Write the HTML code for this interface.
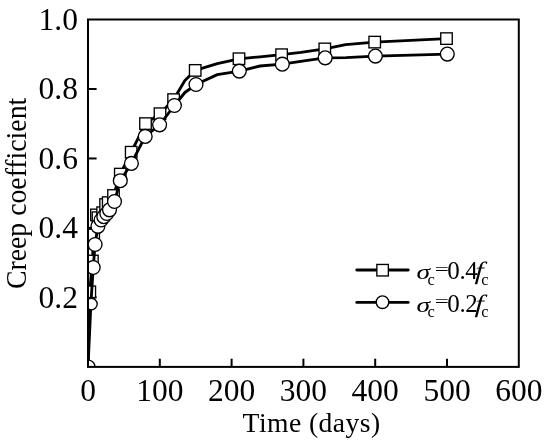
<!DOCTYPE html>
<html><head><meta charset="utf-8"><title>Creep coefficient vs time</title>
<style>
html,body{margin:0;padding:0;background:#fff}
svg{display:block}
text{font-family:"Liberation Serif","DejaVu Serif",serif;fill:#000}
.tk{font-size:31.5px}
.ax{font-size:27.6px}
.lg{font-size:25px}
.sub{font-size:16.5px}
.it{font-style:italic}
</style></head><body>
<svg width="550" height="443" viewBox="0 0 550 443">
<rect width="550" height="443" fill="#fff"/>
<defs><clipPath id="pc"><rect x="89" y="20.5" width="428.8" height="345.4"/></clipPath></defs>

<line x1="88.0" y1="297.42" x2="96.6" y2="297.42" stroke="#000" stroke-width="2"/>
<line x1="88.0" y1="227.94" x2="96.6" y2="227.94" stroke="#000" stroke-width="2"/>
<line x1="88.0" y1="158.46" x2="96.6" y2="158.46" stroke="#000" stroke-width="2"/>
<line x1="88.0" y1="88.98" x2="96.6" y2="88.98" stroke="#000" stroke-width="2"/>
<line x1="159.80" y1="366.9" x2="159.80" y2="358.7" stroke="#000" stroke-width="2"/>
<line x1="231.60" y1="366.9" x2="231.60" y2="358.7" stroke="#000" stroke-width="2"/>
<line x1="303.40" y1="366.9" x2="303.40" y2="358.7" stroke="#000" stroke-width="2"/>
<line x1="375.20" y1="366.9" x2="375.20" y2="358.7" stroke="#000" stroke-width="2"/>
<line x1="447.00" y1="366.9" x2="447.00" y2="358.7" stroke="#000" stroke-width="2"/>
<g clip-path="url(#pc)">
<polyline points="88.0,366.9 89.8,291.8 92.4,261.0 93.7,235.0 96.4,214.9 98.0,217.7 102.6,212.7 105.6,204.5 108.2,202.6 113.5,195.5 120.3,174.1 131.2,152.2 145.5,123.6 160.0,113.7 173.6,99.6 184.9,80.5 195.2,70.4 217.3,63.6 239.0,58.8 260.0,56.8 281.6,54.7 301.0,52.4 324.8,48.9 345.6,44.6 374.7,42.1 446.5,38.6" fill="none" stroke="#000" stroke-width="2.85" stroke-linejoin="round"/>
<rect x="84.05" y="286.05" width="11.5" height="11.5" fill="#fff" stroke="#000" stroke-width="1.35"/>
<rect x="86.65" y="255.25" width="11.5" height="11.5" fill="#fff" stroke="#000" stroke-width="1.35"/>
<rect x="87.95" y="229.25" width="11.5" height="11.5" fill="#fff" stroke="#000" stroke-width="1.35"/>
<rect x="90.65" y="209.15" width="11.5" height="11.5" fill="#fff" stroke="#000" stroke-width="1.35"/>
<rect x="92.25" y="211.95" width="11.5" height="11.5" fill="#fff" stroke="#000" stroke-width="1.35"/>
<rect x="96.85" y="206.95" width="11.5" height="11.5" fill="#fff" stroke="#000" stroke-width="1.35"/>
<rect x="99.85" y="198.75" width="11.5" height="11.5" fill="#fff" stroke="#000" stroke-width="1.35"/>
<rect x="102.45" y="196.85" width="11.5" height="11.5" fill="#fff" stroke="#000" stroke-width="1.35"/>
<rect x="107.75" y="189.75" width="11.5" height="11.5" fill="#fff" stroke="#000" stroke-width="1.35"/>
<rect x="114.55" y="168.35" width="11.5" height="11.5" fill="#fff" stroke="#000" stroke-width="1.35"/>
<rect x="125.45" y="146.45" width="11.5" height="11.5" fill="#fff" stroke="#000" stroke-width="1.35"/>
<rect x="139.75" y="117.85" width="11.5" height="11.5" fill="#fff" stroke="#000" stroke-width="1.35"/>
<rect x="154.25" y="107.95" width="11.5" height="11.5" fill="#fff" stroke="#000" stroke-width="1.35"/>
<rect x="167.85" y="93.85" width="11.5" height="11.5" fill="#fff" stroke="#000" stroke-width="1.35"/>
<rect x="189.45" y="64.65" width="11.5" height="11.5" fill="#fff" stroke="#000" stroke-width="1.35"/>
<rect x="233.25" y="53.00" width="11.5" height="11.5" fill="#fff" stroke="#000" stroke-width="1.35"/>
<rect x="275.85" y="48.95" width="11.5" height="11.5" fill="#fff" stroke="#000" stroke-width="1.35"/>
<rect x="319.05" y="43.15" width="11.5" height="11.5" fill="#fff" stroke="#000" stroke-width="1.35"/>
<rect x="368.95" y="36.35" width="11.5" height="11.5" fill="#fff" stroke="#000" stroke-width="1.35"/>
<rect x="440.75" y="32.85" width="11.5" height="11.5" fill="#fff" stroke="#000" stroke-width="1.35"/>
<polyline points="88.0,366.9 90.9,304.0 93.2,267.5 95.1,244.5 97.9,226.3 101.1,220.0 103.8,216.7 106.8,213.5 109.5,209.8 114.5,201.5 120.3,180.7 131.4,163.4 145.2,136.4 159.6,124.8 174.4,105.5 184.9,92.5 196.0,84.5 217.3,74.6 239.3,71.1 260.0,66.0 282.3,64.2 304.0,60.8 325.2,57.8 346.0,57.6 375.4,56.1 447.3,54.1" fill="none" stroke="#000" stroke-width="2.85" stroke-linejoin="round"/>
<circle cx="88.00" cy="366.90" r="6.9" fill="#fff" stroke="#000" stroke-width="1.35"/>
<circle cx="91.40" cy="304.00" r="5.8" fill="#fff" stroke="#000" stroke-width="1.35"/>
<circle cx="93.20" cy="267.50" r="6.9" fill="#fff" stroke="#000" stroke-width="1.35"/>
<circle cx="95.10" cy="244.50" r="6.9" fill="#fff" stroke="#000" stroke-width="1.35"/>
<circle cx="97.90" cy="226.30" r="6.9" fill="#fff" stroke="#000" stroke-width="1.35"/>
<circle cx="101.10" cy="220.00" r="6.9" fill="#fff" stroke="#000" stroke-width="1.35"/>
<circle cx="103.80" cy="216.70" r="6.9" fill="#fff" stroke="#000" stroke-width="1.35"/>
<circle cx="106.80" cy="213.50" r="6.9" fill="#fff" stroke="#000" stroke-width="1.35"/>
<circle cx="109.50" cy="209.80" r="6.9" fill="#fff" stroke="#000" stroke-width="1.35"/>
<circle cx="114.50" cy="201.50" r="6.9" fill="#fff" stroke="#000" stroke-width="1.35"/>
<circle cx="120.30" cy="180.70" r="6.9" fill="#fff" stroke="#000" stroke-width="1.35"/>
<circle cx="131.40" cy="163.40" r="6.9" fill="#fff" stroke="#000" stroke-width="1.35"/>
<circle cx="145.20" cy="136.40" r="6.9" fill="#fff" stroke="#000" stroke-width="1.35"/>
<circle cx="159.60" cy="124.80" r="6.9" fill="#fff" stroke="#000" stroke-width="1.35"/>
<circle cx="174.40" cy="105.50" r="6.9" fill="#fff" stroke="#000" stroke-width="1.35"/>
<circle cx="196.00" cy="84.50" r="6.9" fill="#fff" stroke="#000" stroke-width="1.35"/>
<circle cx="239.30" cy="71.10" r="6.9" fill="#fff" stroke="#000" stroke-width="1.35"/>
<circle cx="282.30" cy="64.20" r="6.9" fill="#fff" stroke="#000" stroke-width="1.35"/>
<circle cx="325.20" cy="57.80" r="6.9" fill="#fff" stroke="#000" stroke-width="1.35"/>
<circle cx="375.40" cy="56.10" r="6.9" fill="#fff" stroke="#000" stroke-width="1.35"/>
<circle cx="447.30" cy="54.10" r="6.9" fill="#fff" stroke="#000" stroke-width="1.35"/>
</g>
<rect x="88.0" y="19.5" width="430.8" height="347.4" fill="none" stroke="#000" stroke-width="2"/>
<text class="tk" x="77.9" y="307.6" text-anchor="end">0.2</text>
<text class="tk" x="77.9" y="238.1" text-anchor="end">0.4</text>
<text class="tk" x="77.9" y="168.7" text-anchor="end">0.6</text>
<text class="tk" x="77.9" y="99.2" text-anchor="end">0.8</text>
<text class="tk" x="77.9" y="29.7" text-anchor="end">1.0</text>
<text class="tk" x="88.0" y="401.0" text-anchor="middle">0</text>
<text class="tk" x="159.8" y="401.0" text-anchor="middle">100</text>
<text class="tk" x="231.6" y="401.0" text-anchor="middle">200</text>
<text class="tk" x="303.4" y="401.0" text-anchor="middle">300</text>
<text class="tk" x="375.2" y="401.0" text-anchor="middle">400</text>
<text class="tk" x="447.0" y="401.0" text-anchor="middle">500</text>
<text class="tk" x="518.8" y="401.0" text-anchor="middle">600</text>
<text class="ax" x="311.6" y="432.4" text-anchor="middle" letter-spacing="0.45">Time (days)</text>
<text class="ax" transform="translate(26.4,193.4) rotate(-90) scale(1,1.05)" style="font-size:27.75px" text-anchor="middle">Creep coefficient</text>
<line x1="356.8" y1="270.0" x2="408.2" y2="270.0" stroke="#000" stroke-width="2.9" stroke-linecap="round"/>
<rect x="376.85" y="264.45" width="11.5" height="11.5" fill="#fff" stroke="#000" stroke-width="1.35"/>
<text class="lg it" transform="translate(416.4,279.1) scale(1.1,0.87)">σ</text>
<text class="sub" x="427.4" y="284.9">c</text>
<text class="lg" transform="translate(434.7,274.9) scale(1,0.643)">=</text>
<text class="lg" x="447.3" y="279.1" letter-spacing="-0.4">0.4</text>
<text class="lg it" transform="translate(474.8,279.1) skewX(-3) scale(1.2,1)">f</text>
<text class="sub" x="481.3" y="284.9">c</text>
<line x1="356.8" y1="302.4" x2="408.2" y2="302.4" stroke="#000" stroke-width="2.9" stroke-linecap="round"/>
<circle cx="382.5" cy="302.2" r="6.3" fill="#fff" stroke="#000" stroke-width="1.35"/>
<text class="lg it" transform="translate(416.4,311.5) scale(1.1,0.87)">σ</text>
<text class="sub" x="427.4" y="317.3">c</text>
<text class="lg" transform="translate(434.7,307.3) scale(1,0.643)">=</text>
<text class="lg" x="447.3" y="311.5" letter-spacing="-0.4">0.2</text>
<text class="lg it" transform="translate(474.8,311.5) skewX(-3) scale(1.2,1)">f</text>
<text class="sub" x="481.3" y="317.3">c</text>
</svg></body></html>
